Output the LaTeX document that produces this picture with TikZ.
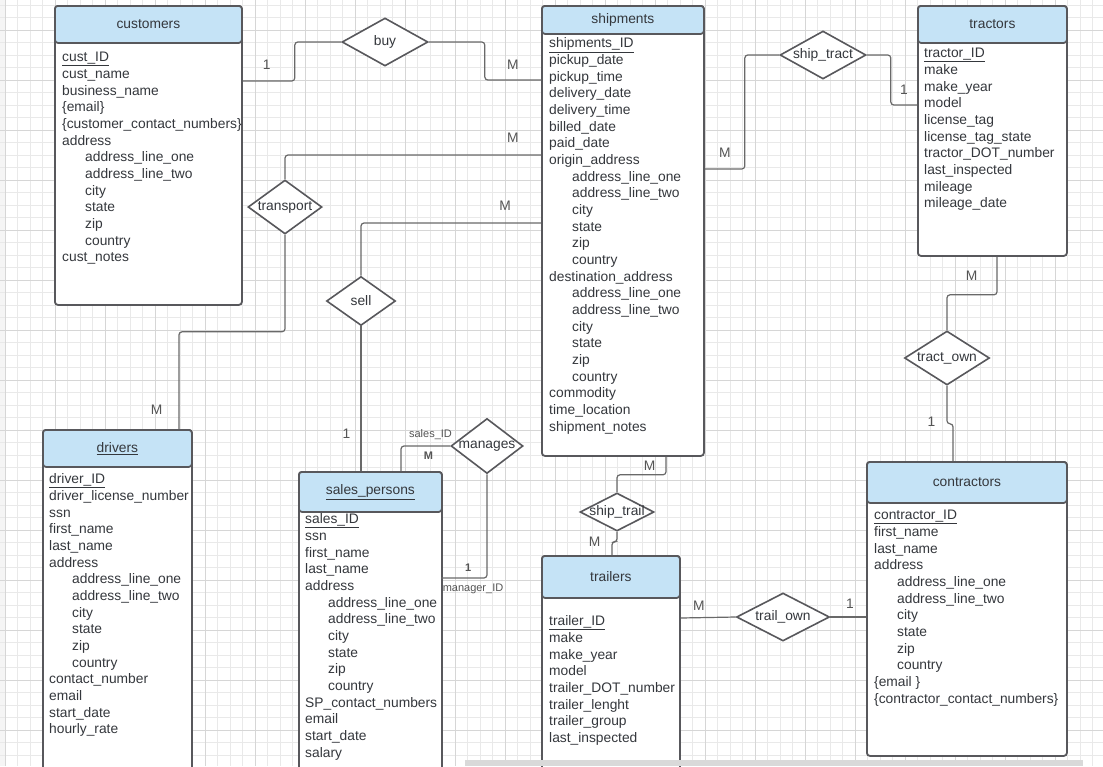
\documentclass[tikz,border=0pt]{standalone}
\usepackage{fontspec}
\setmainfont{Liberation Sans}
\usepackage{tikz}
\usetikzlibrary{%
  shapes.geometric,% wg. diamond
  positioning,% wg. above=..
  calc%
}

\definecolor{headblue}{RGB}{197,227,246}
\definecolor{boxline}{RGB}{88,88,92}
\definecolor{relline}{RGB}{105,105,105}
\definecolor{txtgray}{RGB}{52,55,60}
\definecolor{cardgray}{RGB}{85,85,85}
\definecolor{gridminor}{RGB}{233,233,233}
\definecolor{gridmajor}{RGB}{214,214,214}

\newcommand{\indattr}{\hspace*{23pt}}
\newcommand{\addrlines}{%
  \indattr address\_line\_one\\ \indattr address\_line\_two\\
  \indattr city\\ \indattr state\\ \indattr zip\\ \indattr country}

\begin{document}
\begin{tikzpicture}
    [   x=1pt, y=-1pt
    ,   font=\fontsize{13.8}{16.67}\selectfont
    ,   text=txtgray
    ,   entity/.style=
            {   % The shape:
                rectangle
            ,   anchor=north west
            ,   rounded corners=3pt
            ,   inner sep=0pt
            ,   % The rest
                line width=1.8pt
            ,   draw=boxline
            ,   fill=white
            }
    ,   enthead/.style=
            {   rectangle
            ,   anchor=north
            ,   rounded corners=3pt
            ,   inner sep=0pt
            ,   line width=1.8pt
            ,   draw=boxline
            ,   fill=headblue
            }
    ,   keyattr/.style={anchor=base west, inner sep=0pt}
    ,   attrs/.style={anchor=north west, inner sep=0pt, align=left}
    ,   rel/.style=
            {   diamond
            ,   inner sep=0pt
            ,   line width=1.6pt
            ,   draw=boxline
            ,   fill=white
            }
    ,   link/.style={draw=relline, line width=1.2pt, rounded corners=3pt}
    ,   card/.style={inner sep=1pt, text=cardgray}
    ,   tag/.style={inner sep=1pt, text=cardgray, font=\fontsize{11}{12}\selectfont}
    ,   tagbf/.style={tag, font=\fontsize{11}{12}\selectfont\bfseries}
    ]

    \useasboundingbox (0,0) rectangle (1103,766);
    \clip (0,0) rectangle (1103,766);

    % grid paper
    \fill[white] (0,0) rectangle (1103,766);
    \fill[gray!8] (0,0) rectangle (5,766);
    \foreach \gx in {5,17.5,...,1103} \draw[gridminor, line width=0.7pt] (\gx,0) -- (\gx,766);
    \foreach \gy in {5,17.5,...,766} \draw[gridminor, line width=0.7pt] (0,\gy) -- (1103,\gy);
    \foreach \gx in {5,55,...,1103} \draw[gridmajor, line width=0.7pt] (\gx,0) -- (\gx,766);
    \foreach \gy in {30,80,...,766} \draw[gridmajor, line width=0.7pt] (0,\gy) -- (1103,\gy);

    % entities
    \node[entity, minimum width=187pt, minimum height=299pt] (cust) at (54,5) {};
    \node[enthead, minimum width=187pt, minimum height=37pt] (cust-h) at (cust.north) {customers};
    \node[keyattr] (cust-k) at ($(cust-h.south west)+(8,17.7)$) {\underline{cust\_ID}};
    \node[attrs] (cust-a) at ($(cust-k.base west)+(0,5)$)
        {\strut cust\_name\\ business\_name\\ \{email\}\\
         \{customer\_contact\_numbers\}\\ address\\ \addrlines\\ cust\_notes};

    \node[entity, minimum width=162pt, minimum height=450pt] (ship) at (541,5) {};
    \node[enthead, minimum width=162pt, minimum height=28pt] (ship-h) at (ship.north) {shipments};
    \node[keyattr] (ship-k) at ($(ship-h.south west)+(8,12.7)$) {\underline{shipments\_ID}};
    \node[attrs] (ship-a) at ($(ship-k.base west)+(0,5)$)
        {\strut pickup\_date\\ pickup\_time\\ delivery\_date\\
         delivery\_time\\ billed\_date\\ paid\_date\\ origin\_address\\ \addrlines\\
         destination\_address\\ \addrlines\\ commodity\\ time\_location\\ shipment\_notes};

    \node[entity, minimum width=149pt, minimum height=250pt] (trac) at (917,5) {};
    \node[enthead, minimum width=149pt, minimum height=37pt] (trac-h) at (trac.north) {tractors};
    \node[keyattr] (trac-k) at ($(trac-h.south west)+(7,13.7)$) {\underline{tractor\_ID}};
    \node[attrs] (trac-a) at ($(trac-k.base west)+(0,5)$)
        {\strut make\\ make\_year\\ model\\ license\_tag\\
         license\_tag\_state\\ tractor\_DOT\_number\\ last\_inspected\\ mileage\\ mileage\_date};

    \node[entity, minimum width=149pt, minimum height=380pt] (drv) at (42,429) {};
    \node[enthead, minimum width=149pt, minimum height=37pt] (drv-h) at (drv.north) {\underline{drivers}};
    \node[keyattr] (drv-k) at ($(drv-h.south west)+(7,15.7)$) {\underline{driver\_ID}};
    \node[attrs] (drv-a) at ($(drv-k.base west)+(0,5)$)
        {\strut driver\_license\_number\\ ssn\\ first\_name\\ last\_name\\
         address\\ \addrlines\\ contact\_number\\ email\\ start\_date\\ hourly\_rate};

    \node[entity, minimum width=143pt, minimum height=340pt] (sp) at (298,471) {};
    \node[enthead, minimum width=143pt, minimum height=40pt] (sp-h) at (sp.north) {\underline{sales\_persons}};
    \node[keyattr] (sp-k) at ($(sp-h.south west)+(7,10.7)$) {\underline{sales\_ID}};
    \node[attrs] (sp-a) at ($(sp-k.base west)+(0,5)$)
        {\strut ssn\\ first\_name\\ last\_name\\ address\\ \addrlines\\
         SP\_contact\_numbers\\ email\\ start\_date\\ salary};

    \node[entity, minimum width=138pt, minimum height=250pt] (trl) at (541,555) {};
    \node[enthead, minimum width=138pt, minimum height=42pt] (trl-h) at (trl.north) {trailers};
    \node[keyattr] (trl-k) at ($(trl-h.south west)+(8,26.7)$) {\underline{trailer\_ID}};
    \node[attrs] (trl-a) at ($(trl-k.base west)+(0,5)$)
        {\strut make\\ make\_year\\ model\\ trailer\_DOT\_number\\
         trailer\_lenght\\ trailer\_group\\ last\_inspected};

    \node[entity, minimum width=200pt, minimum height=294pt] (cont) at (866,461) {};
    \node[enthead, minimum width=200pt, minimum height=41pt] (cont-h) at (cont.north) {contractors};
    \node[keyattr] (cont-k) at ($(cont-h.south west)+(8,15.7)$) {\underline{contractor\_ID}};
    \node[attrs] (cont-a) at ($(cont-k.base west)+(0,5)$)
        {\strut first\_name\\ last\_name\\ address\\ \addrlines\\
         \{email \}\\ \{contractor\_contact\_numbers\}};

    % relationships
    \node[rel, minimum width=86pt, minimum height=48pt, label=center:buy] (buy) at (385,42) {};
    \node[rel, minimum width=86pt, minimum height=48pt, label=center:{ship\_tract}] (stract) at (823,55) {};
    \node[rel, minimum width=74pt, minimum height=54pt, label=center:transport] (trans) at (285,207) {};
    \node[rel, minimum width=69pt, minimum height=49pt, label=center:sell] (sell) at (361,301) {};
    \node[rel, minimum width=72pt, minimum height=55pt, label=center:manages] (mng) at (487,446) {};
    \node[rel, minimum width=74pt, minimum height=38pt, label=center:{ship\_trail}] (strail) at (617,512) {};
    \node[rel, minimum width=85pt, minimum height=54pt, label=center:{tract\_own}] (town) at (947,358) {};
    \node[rel, minimum width=93pt, minimum height=48pt, label=center:{trail\_own}] (trown) at (783,617) {};

    % connectors
    \draw[link] ($(cust.north east)+(0,76)$) -- node[card, above=10pt, pos=0.46] (n-c1) {1} ++(52,0) |- (buy.west);
    \draw[link] (buy.east) -- ++(56,0) |- ($(ship.north west)+(0,75)$) node[card, above=9pt, pos=0.75] (n-c2) {M};
    \draw[link] (trans.north) |- ($(ship.north west)+(0,150)$) node[card, above=11pt, pos=0.945] (n-c3) {M};
    \draw[link] (trans.south) -- ++(0,97) -| ($(drv.north west)+(137,0)$) node[card, left=15pt, pos=0.9] (n-c4) {M};
    \draw[link] (sell.north) |- ($(ship.north west)+(0,218)$) node[card, above=11pt, pos=0.9] (n-c5) {M};
    \draw[link] (sell.south) -- ($(sp.north west)+(63,0)$) node[card, left=9pt, pos=0.74] (n-c6) {1};
    \draw[link] ($(ship.north east)+(0,164)$) -- node[card, above=10pt] (n-c7) {M} ++(40,0) |- (stract.west);
    \draw[link] (stract.east) -- ++(24,0) |- ($(trac.north west)+(0,100)$) node[card, above=9pt, pos=0.75] (n-c8) {1};
    \draw[link] ($(trac.south west)+(80,0)$) -- node[card, left=18pt] (n-c9) {M} ++(0,38) -| (town.north);
    \draw[link] (town.south) -- node[card, left=10pt, pos=0.95] (n-c10) {1} ++(0,38) -| ($(cont.north west)+(87,0)$);
    \draw[link] ($(ship.south west)+(125,0)$) -- node[card, left=9pt] (n-c11) {M} ++(0,18) -| (strail.north);
    \draw[link] (strail.south) -- ++(0,10) node[card, left=15pt] (n-c12) {M} -| ($(trl.north west)+(71,0)$);
    \draw[link] ($(trl.north east)+(0,63)$) -- node[card, above=6pt, pos=0.33] (n-c13) {M} (trown.west);
    \draw[link] (trown.east) -- node[card, above=7pt, pos=0.55] (n-c14) {1} ($(cont.north west)+(0,156)$);
    \draw[link] ($(sp.north west)+(103,0)$) |- (mng.west)
        node[tag, above=5pt, pos=0.8] (n-sid) {sales\_ID}
        node[tagbf, below=4pt, pos=0.78] (n-sm) {M};
    \draw[link] (mng.south) |- ($(sp.north west)+(143,107)$)
        node[tagbf, above=5pt, pos=0.705] (n-s1) {1}
        node[tag, below=4pt, pos=0.652] (n-mid) {manager\_ID};

    % scroll bar
    \fill[gray!30] (465,760) rectangle (1083,766);
\end{tikzpicture}
\end{document}
